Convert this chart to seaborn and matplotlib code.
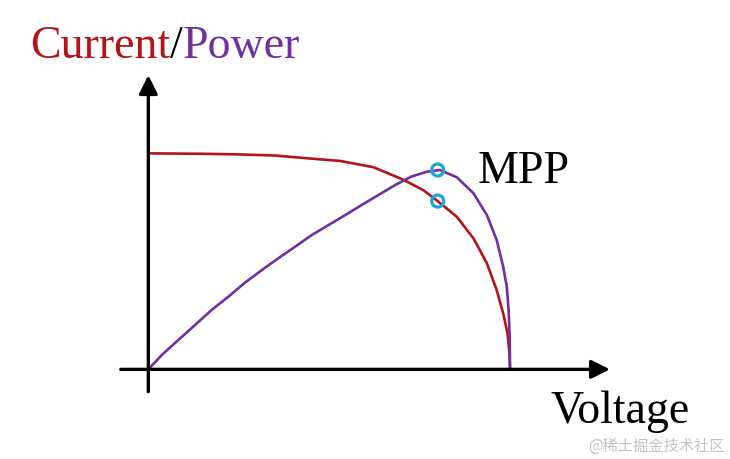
import matplotlib
matplotlib.use("Agg")
import matplotlib.pyplot as plt
import numpy as np
import pandas as pd
import seaborn as sns

# values (voltage normalised to Voc = 1)
volt_i = [0, 0.15, 0.253, 0.35, 0.433, 0.530, 0.622, 0.705, 0.760, 0.800, 0.853,
          0.899, 0.936, 0.963, 0.981, 0.993, 0.998, 1.0]
current = [1.0, 0.998, 0.995, 0.99, 0.978, 0.965, 0.936, 0.878, 0.830, 0.779, 0.706,
           0.606, 0.491, 0.367, 0.259, 0.167, 0.08, 0.0]

volt_p = [0, 0.037, 0.083, 0.129, 0.175, 0.221, 0.267, 0.314, 0.359, 0.406, 0.452,
          0.498, 0.544, 0.590, 0.636, 0.682, 0.728, 0.770, 0.806, 0.853, 0.899,
          0.936, 0.963, 0.981, 0.991, 0.996, 0.999, 1.0]
power = [0, 0.066, 0.136, 0.205, 0.275, 0.336, 0.401, 0.460, 0.514, 0.568, 0.622,
         0.668, 0.714, 0.761, 0.807, 0.853, 0.893, 0.915, 0.923, 0.889, 0.815,
         0.714, 0.599, 0.475, 0.382, 0.275, 0.151, 0.0]

mpp_v = [0.800, 0.800]
mpp_y = [0.923, 0.779]

RED = '#B41418'
PURPLE = '#7030A0'
CYAN = '#1FA5D5'

sns.set_style("white")
plt.rcParams['font.family'] = ['Liberation Serif', 'DejaVu Serif']

fig = plt.figure(figsize=(7.3, 4.59), dpi=100)
ax = fig.add_axes([0, 0, 1, 1])
ax.set_xlim(-0.410, 1.608)
ax.set_ylim(-0.415, 1.710)
ax.axis('off')

# axes with arrows
arrow = dict(arrowstyle='-|>', lw=2.4, color='black', mutation_scale=28,
             shrinkA=0, shrinkB=0)
ax.annotate('', xy=(1.276, 0), xytext=(-0.076, 0), arrowprops=arrow)
ax.annotate('', xy=(0, 1.362), xytext=(0, -0.103), arrowprops=arrow)

# curves
sns.lineplot(x=volt_i, y=current, ax=ax, color=RED, lw=1.9, estimator=None)
sns.lineplot(x=volt_p, y=power, ax=ax, color=PURPLE, lw=1.9, estimator=None)
sns.scatterplot(x=mpp_v, y=mpp_y, ax=ax, s=75, facecolor='none',
                edgecolor=CYAN, linewidth=2.3, zorder=5)

# labels
fs = 33
t1 = ax.text(-0.327, 1.441, 'Current', color=RED, fontsize=fs, va='baseline')
t2 = ax.annotate('/', xy=(1, 0), xycoords=t1, color='black', fontsize=fs,
                 va='bottom')
ax.annotate('Power', xy=(1, 0), xycoords=t2, color=PURPLE, fontsize=fs,
            va='bottom')
ax.text(0.909, 0.864, 'MPP', color='black', fontsize=fs, va='baseline')
ax.text(1.112, -0.248, 'Voltage', color='black', fontsize=fs, va='baseline')

# watermark
ax.text(0.992, 0.028, '@稀土掘金技术社区', transform=fig.transFigure,
        ha='right', va='center', fontsize=11, color='#c4c4c4',
        family=['Noto Sans CJK SC', 'DejaVu Sans'])

fig.savefig('out.png', dpi=100)
